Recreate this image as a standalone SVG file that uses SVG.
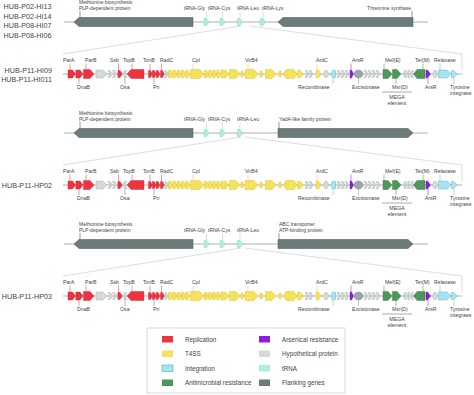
<svg xmlns="http://www.w3.org/2000/svg" xmlns:xlink="http://www.w3.org/1999/xlink" width="474" height="395" viewBox="0 0 474 395">
<style>
text{font-family:"Liberation Sans",Arial,sans-serif;fill:#444}
.tn{font-size:7.2px;fill:#444}
.t5{font-size:5.2px}
.tf{font-size:5px}
.tl{font-size:6.3px;fill:#444}
.ln{stroke:#8c8c8c;stroke-width:0.7;fill:none}
.zm{stroke:#c6c6c6;stroke-width:0.6;fill:none}
.fl{fill:#6d7b7b;stroke:#435050;stroke-width:0.5}
.tr{fill:#aef0dc;stroke:#6fcfb4;stroke-width:0.4}
.rd{fill:#ee3340;stroke:#c4202c;stroke-width:0.4;stroke-linejoin:round}
.yl{fill:#f6e25a;stroke:#d4bb2c;stroke-width:0.4;stroke-linejoin:round}
.gy{fill:#d5d9d9;stroke:#9aa3a3;stroke-width:0.4;stroke-linejoin:round}
.cy{fill:#a6e4f2;stroke:#4fa9bd;stroke-width:0.4;stroke-linejoin:round}
.gr{fill:#4e975a;stroke:#356e3e;stroke-width:0.4;stroke-linejoin:round}
.pu{fill:#8a1ee0;stroke:#6a10b0;stroke-width:0.4}
.ex{fill:#98a8aa;stroke:#6b7b7d;stroke-width:0.4}
.tk{stroke:#333;stroke-width:0.5}
.tkr{stroke:#e0303c;stroke-width:0.5}
.tky{stroke:#d9c12e;stroke-width:0.5}
.tkg{stroke:#3f8a4b;stroke-width:0.5}
.tkp{stroke:#7a14d0;stroke-width:0.5}
.tkc{stroke:#5ab4c8;stroke-width:0.5}
.tkx{stroke:#7d8a8b;stroke-width:0.5}
.tt{stroke:#7fdcc0;stroke-width:0.5}
.mg{stroke:#555;stroke-width:0.5}
</style>
<defs>
<g id="flankbase">
<line class="ln" x1="64" y1="0" x2="428" y2="0"/>
<polygon class="fl" points="74,0 79,-4.5 193,-4.5 193,4.5 79,4.5"/>
<line class="tk" x1="80" y1="-11" x2="80" y2="-4.5"/>
<polygon class="tr" points="204,-3.5 206.5,-3.5 209,0 206.5,3.5 204,3.5"/>
<polygon class="tr" points="220,-3.5 222.5,-3.5 225,0 222.5,3.5 220,3.5"/>
<polygon class="tr" points="237.5,-3.5 240,-3.5 242.5,0 240,3.5 237.5,3.5"/>
<line class="tt" x1="206.5" y1="-10.5" x2="206.5" y2="-3.5"/>
<line class="tt" x1="222.5" y1="-10.5" x2="222.5" y2="-3.5"/>
<line class="tt" x1="240" y1="-10.5" x2="240" y2="-3.5"/>
</g>
<g id="generow">
<line class="ln" x1="63" y1="0" x2="462" y2="0"/>
<polygon class="rd" points="68,-4 72.5,-4 75.5,0 72.5,4 68,4"/>
<polygon class="rd" points="75.8,-4 80,-4 83,0 80,4 75.8,4"/>
<polygon class="rd" points="83.5,-4.5 90,-4.5 94,0 90,4.5 83.5,4.5"/>
<polygon class="gy" points="96,-4 103,-4 107,0 103,4 96,4"/>
<polygon class="gy" points="108,-3.5 110,-3.5 112.5,0 110,3.5 108,3.5 110,0"/>
<polygon class="gy" points="112.5,-3.5 114.5,-3.5 117,0 114.5,3.5 112.5,3.5 114.5,0"/>
<polygon class="rd" points="117.8,-3.5 120,-3.5 122.3,0 120,3.5 117.8,3.5"/>
<polygon class="gy" points="122.5,0 124.5,-3.5 126.8,-3.5 125,0 126.8,3.5 124.5,3.5"/>
<polygon class="rd" points="127,0 131,-4.5 144,-4.5 144,4.5 131,4.5"/>
<polygon class="rd" points="148.5,-3.5 150.5,-3.5 152.3,0 150.5,3.5 148.5,3.5"/>
<polygon class="rd" points="152.3,-3.5 154.3,-3.5 156.1,0 154.3,3.5 152.3,3.5"/>
<polygon class="rd" points="156.1,-3.5 158.1,-3.5 159.9,0 158.1,3.5 156.1,3.5"/>
<polygon class="rd" points="160.5,-3.5 162.5,-3.5 164.3,0 162.5,3.5 160.5,3.5"/>
<polygon class="gy" points="164.5,-3.5 166.3,-3.5 168.3,0 166.3,3.5 164.5,3.5 166.3,0"/>
<polygon class="yl" points="168.5,-3.8 170.8,-3.8 172.7,0 170.8,3.8 168.5,3.8"/>
<polygon class="yl" points="172.8,-3.8 175.1,-3.8 177,0 175.1,3.8 172.8,3.8"/>
<polygon class="yl" points="177.1,-3.8 179.4,-3.8 181.3,0 179.4,3.8 177.1,3.8"/>
<polygon class="yl" points="181.4,-3.8 183.7,-3.8 185.6,0 183.7,3.8 181.4,3.8"/>
<polygon class="yl" points="185.7,-3.8 188,-3.8 189.9,0 188,3.8 185.7,3.8"/>
<polygon class="yl" points="190.5,-4.5 200,-4.5 204,0 200,4.5 190.5,4.5"/>
<polygon class="yl" points="204.5,-3.8 206.6,-3.8 208.5,0 206.6,3.8 204.5,3.8"/>
<polygon class="yl" points="208.6,-3.8 210.7,-3.8 212.6,0 210.7,3.8 208.6,3.8"/>
<polygon class="yl" points="212.7,-3.8 214.8,-3.8 216.7,0 214.8,3.8 212.7,3.8"/>
<polygon class="yl" points="216.8,-3.8 218.9,-3.8 220.8,0 218.9,3.8 216.8,3.8"/>
<polygon class="yl" points="221,-4 225.5,-4 229,0 225.5,4 221,4"/>
<polygon class="yl" points="229.5,-4.5 236,-4.5 240,0 236,4.5 229.5,4.5"/>
<polygon class="yl" points="241,-3 242.5,-3 244,0 242.5,3 241,3"/>
<polygon class="yl" points="245,-4.5 254,-4.5 258,0 254,4.5 245,4.5"/>
<polygon class="yl" points="260,-3 261.5,-3 263,0 261.5,3 260,3"/>
<polygon class="yl" points="265.5,-4.5 272,-4.5 276,0 272,4.5 265.5,4.5"/>
<polygon class="yl" points="278,0 279.5,-3 281,-3 281,3 279.5,3"/>
<polygon class="yl" points="283,0 286,-4.5 294,-4.5 297,0 294,4.5 286,4.5"/>
<polygon class="yl" points="297.5,-3.8 300.5,-3.8 303,0 300.5,3.8 297.5,3.8"/>
<polygon class="gy" points="305,-3.5 307,-3.5 309,0 307,3.5 305,3.5 307,0"/>
<polygon class="gy" points="309,-3.5 311,-3.5 313,0 311,3.5 309,3.5 311,0"/>
<polygon class="yl" points="316,-3.8 318.5,-3.8 321.5,0 318.5,3.8 316,3.8"/>
<polygon class="gy" points="323,0 325,-3.5 327,-3.5 329,0 327,3.5 325,3.5"/>
<polygon class="cy" points="330.5,0 332.5,-3.8 335.5,-3.8 335.5,3.8 332.5,3.8"/>
<polygon class="gy" points="337,-3.5 339,-3.5 341,0 339,3.5 337,3.5 339,0"/>
<polygon class="gy" points="341,-3.5 343,-3.5 345,0 343,3.5 341,3.5 343,0"/>
<polygon class="gy" points="345,-3.5 347,-3.5 349,0 347,3.5 345,3.5 347,0"/>
<polygon class="pu" points="350,-4 351.5,-4 353.5,0 351.5,4 350,4"/>
<ellipse class="ex" cx="358.5" cy="0" rx="4.5" ry="4"/>
<polygon class="gy" points="364,-3.5 366,-3.5 368,0 366,3.5 364,3.5 366,0"/>
<polygon class="gy" points="368,-3.5 370,-3.5 372,0 370,3.5 368,3.5 370,0"/>
<polygon class="gy" points="372,-3.5 374,-3.5 376,0 374,3.5 372,3.5 374,0"/>
<polygon class="gy" points="376,-3.5 378,-3.5 380,0 378,3.5 376,3.5 378,0"/>
<polygon class="gr" points="383,-4.5 388,-4.5 392,0 388,4.5 383,4.5"/>
<polygon class="gr" points="392.5,-4.5 397,-4.5 401,0 397,4.5 392.5,4.5"/>
<polygon class="gy" points="403,0 404.7,-3.5 406.5,-3.5 404.8,0 406.5,3.5 404.7,3.5"/>
<polygon class="gy" points="406.5,0 408.2,-3.5 410,-3.5 408.3,0 410,3.5 408.2,3.5"/>
<polygon class="gy" points="410,0 411.7,-3.5 413.5,-3.5 411.8,0 413.5,3.5 411.7,3.5"/>
<polygon class="gr" points="413.5,0 417,-4.5 425,-4.5 425,4.5 417,4.5"/>
<polygon class="pu" points="426,-4 427.5,-4 430.5,0 427.5,4 426,4"/>
<polygon class="gy" points="432,0 434,-3.5 436,-3.5 438,0 436,3.5 434,3.5"/>
<polygon class="cy" points="438.5,-4 447,-4 451,0 447,4 438.5,4"/>
<polygon class="cy" points="451.5,-3.5 454,-3.5 457,0 454,3.5 451.5,3.5"/>
<line class="tkr" x1="70" y1="-10.5" x2="70" y2="-4"/>
<line class="tkr" x1="86" y1="-10.5" x2="86" y2="-4.5"/>
<line class="tkr" x1="118.5" y1="-10.5" x2="118.5" y2="-3.5"/>
<line class="tkr" x1="132" y1="-10.5" x2="132" y2="-4.5"/>
<line class="tkr" x1="150" y1="-10.5" x2="150" y2="-3.5"/>
<line class="tkr" x1="161.5" y1="-10.5" x2="161.5" y2="-3.5"/>
<line class="tky" x1="193" y1="-10.5" x2="193" y2="-4.5"/>
<line class="tky" x1="248" y1="-10.5" x2="248" y2="-4.5"/>
<line class="tky" x1="317" y1="-10.5" x2="317" y2="-3.8"/>
<line class="tkp" x1="351" y1="-10.5" x2="351" y2="-4"/>
<line class="tkg" x1="384" y1="-10.5" x2="384" y2="-4.5"/>
<line class="tkg" x1="423" y1="-10.5" x2="423" y2="-4.5"/>
<line class="tkc" x1="440" y1="-10.5" x2="440" y2="-4"/>
<line class="tkr" x1="79" y1="4" x2="79" y2="10"/>
<line class="tkr" x1="125" y1="3.5" x2="125" y2="10"/>
<line class="tkr" x1="154" y1="3.5" x2="154" y2="10"/>
<line class="tkc" x1="333" y1="3.8" x2="333" y2="10"/>
<line class="tkx" x1="358.5" y1="4" x2="358.5" y2="10"/>
<line class="tkg" x1="396" y1="4.5" x2="396" y2="10"/>
<line class="tkp" x1="428" y1="4" x2="428" y2="10"/>
<line class="tkc" x1="454" y1="3.5" x2="454" y2="10"/>
<line class="mg" x1="382" y1="18" x2="412" y2="18"/>
</g>
</defs>

<g id="labels-top">
<text class="tn" x="51.5" y="9.2" text-anchor="end">HUB-P02-HI13</text>
<text class="tn" x="51.5" y="18.6" text-anchor="end">HUB-P02-HI14</text>
<text class="tn" x="51.5" y="28.4" text-anchor="end">HUB-P08-HI07</text>
<text class="tn" x="51.5" y="37.6" text-anchor="end">HUB-P08-HI06</text>
</g>

<g id="connectors">
<polyline class="zm" points="63,54 241,26"/>
<polyline class="zm" points="249,26 462,54 462,70"/>
<polyline class="zm" points="63,165 241,137"/>
<polyline class="zm" points="245,137 462,165 462,181"/>
<polyline class="zm" points="63,276 241,248"/>
<polyline class="zm" points="245,248 462,276 462,292"/>
</g>

<g id="flank1" transform="translate(0,22)">
<use xlink:href="#flankbase" href="#flankbase"/>
<polygon class="tr" points="260.5,-3.5 263,-3.5 265.5,0 263,3.5 260.5,3.5"/>
<line class="tt" x1="263" y1="-10.5" x2="263" y2="-3.5"/>
<polygon class="fl" points="278,0 283,-4.5 413,-4.5 413,4.5 283,4.5"/>
<line class="tk" x1="412" y1="-11" x2="412" y2="-4.5"/>
<text class="tf" x="79" y="-18.5">Methionine biosynthesis</text>
<text class="tf" x="79" y="-12.5">PLP-dependent protein</text>
<text class="tf" x="184" y="-12.5">tRNA-Gly</text>
<text class="tf" x="208" y="-12.5">tRNA-Cys</text>
<text class="tf" x="237" y="-12.5">tRNA-Leu</text>
<text class="tf" x="262" y="-12.5">tRNA-Lys</text>
<text class="tf" x="411" y="-12.5" text-anchor="end">Threonine synthase</text>
</g>

<g id="row1" transform="translate(0,74)">
<use xlink:href="#generow" href="#generow"/>
<text class="tn" x="52" y="-1.5" text-anchor="end">HUB-P11-HI09</text>
<text class="tn" x="52" y="7.5" text-anchor="end">HUB-P11-HI011</text>
<text class="t5" x="63" y="-12">ParA</text>
<text class="t5" x="85" y="-12">ParB</text>
<text class="t5" x="110" y="-12">Ssb</text>
<text class="t5" x="123" y="-12">TopB</text>
<text class="t5" x="143" y="-12">TonB</text>
<text class="t5" x="160" y="-12">RadC</text>
<text class="t5" x="192" y="-12">Cpl</text>
<text class="t5" x="245" y="-12">VirB4</text>
<text class="t5" x="316" y="-12">ArdC</text>
<text class="t5" x="352" y="-12">ArsR</text>
<text class="t5" x="385" y="-12">Mef(E)</text>
<text class="t5" x="415" y="-12">Tet(M)</text>
<text class="t5" x="434" y="-12">Relaxase</text>
<text class="t5" x="77" y="14.5">DnaB</text>
<text class="t5" x="120" y="14.5">Osa</text>
<text class="t5" x="153" y="14.5">Pri</text>
<text class="t5" x="298" y="14.5">Recombinase</text>
<text class="t5" x="352" y="14.5">Excisionase</text>
<text class="t5" x="392" y="14.5">Msr(D)</text>
<text class="t5" x="425" y="14.5">ArsR</text>
<text class="t5" x="450" y="14.5">Tyrosine</text>
<text class="t5" x="450" y="20.5">integrase</text>
<text class="t5" x="397" y="25" text-anchor="middle">MEGA</text>
<text class="t5" x="397" y="31" text-anchor="middle">element</text>
</g>

<g id="flank2" transform="translate(0,133)">
<use xlink:href="#flankbase" href="#flankbase"/>
<polygon class="fl" points="278,-4.5 408,-4.5 413,0 408,4.5 278,4.5"/>
<line class="tk" x1="279" y1="-11" x2="279" y2="-4.5"/>
<text class="tf" x="79" y="-18.5">Methionine biosynthesis</text>
<text class="tf" x="79" y="-12.5">PLP-dependent protein</text>
<text class="tf" x="184" y="-12.5">tRNA-Gly</text>
<text class="tf" x="208" y="-12.5">tRNA-Cys</text>
<text class="tf" x="237" y="-12.5">tRNA-Leu</text>
<text class="tf" x="279" y="-12.5">YadA-like family protein</text>
</g>

<g id="row2" transform="translate(0,185)">
<use xlink:href="#generow" href="#generow"/>
<text class="tn" x="52" y="2.5" text-anchor="end">HUB-P11-HP02</text>
<text class="t5" x="63" y="-12">ParA</text>
<text class="t5" x="85" y="-12">ParB</text>
<text class="t5" x="110" y="-12">Ssb</text>
<text class="t5" x="123" y="-12">TopB</text>
<text class="t5" x="143" y="-12">TonB</text>
<text class="t5" x="160" y="-12">RadC</text>
<text class="t5" x="192" y="-12">Cpl</text>
<text class="t5" x="245" y="-12">VirB4</text>
<text class="t5" x="316" y="-12">ArdC</text>
<text class="t5" x="352" y="-12">ArsR</text>
<text class="t5" x="385" y="-12">Mef(E)</text>
<text class="t5" x="415" y="-12">Tet(M)</text>
<text class="t5" x="434" y="-12">Relaxase</text>
<text class="t5" x="77" y="14.5">DnaB</text>
<text class="t5" x="120" y="14.5">Osa</text>
<text class="t5" x="153" y="14.5">Pri</text>
<text class="t5" x="298" y="14.5">Recombinase</text>
<text class="t5" x="352" y="14.5">Excisionase</text>
<text class="t5" x="392" y="14.5">Msr(D)</text>
<text class="t5" x="425" y="14.5">ArsR</text>
<text class="t5" x="450" y="14.5">Tyrosine</text>
<text class="t5" x="450" y="20.5">integrase</text>
<text class="t5" x="397" y="25" text-anchor="middle">MEGA</text>
<text class="t5" x="397" y="31" text-anchor="middle">element</text>
</g>

<g id="flank3" transform="translate(0,244)">
<use xlink:href="#flankbase" href="#flankbase"/>
<polygon class="fl" points="278,-4.5 408,-4.5 413,0 408,4.5 278,4.5"/>
<line class="tk" x1="279" y1="-11" x2="279" y2="-4.5"/>
<text class="tf" x="79" y="-18.5">Methionine biosynthesis</text>
<text class="tf" x="79" y="-12.5">PLP-dependent protein</text>
<text class="tf" x="184" y="-12.5">tRNA-Gly</text>
<text class="tf" x="208" y="-12.5">tRNA-Cys</text>
<text class="tf" x="237" y="-12.5">tRNA-Leu</text>
<text class="tf" x="279" y="-18.5">ABC transporter</text>
<text class="tf" x="279" y="-12.5">ATP-binding protein</text>
</g>

<g id="row3" transform="translate(0,296)">
<use xlink:href="#generow" href="#generow"/>
<text class="tn" x="52" y="2.5" text-anchor="end">HUB-P11-HP03</text>
<text class="t5" x="63" y="-12">ParA</text>
<text class="t5" x="85" y="-12">ParB</text>
<text class="t5" x="110" y="-12">Ssb</text>
<text class="t5" x="123" y="-12">TopB</text>
<text class="t5" x="143" y="-12">TonB</text>
<text class="t5" x="160" y="-12">RadC</text>
<text class="t5" x="192" y="-12">Cpl</text>
<text class="t5" x="245" y="-12">VirB4</text>
<text class="t5" x="316" y="-12">ArdC</text>
<text class="t5" x="352" y="-12">ArsR</text>
<text class="t5" x="385" y="-12">Mef(E)</text>
<text class="t5" x="415" y="-12">Tet(M)</text>
<text class="t5" x="434" y="-12">Relaxase</text>
<text class="t5" x="77" y="14.5">DnaB</text>
<text class="t5" x="120" y="14.5">Osa</text>
<text class="t5" x="153" y="14.5">Pri</text>
<text class="t5" x="298" y="14.5">Recombinase</text>
<text class="t5" x="352" y="14.5">Excisionase</text>
<text class="t5" x="392" y="14.5">Msr(D)</text>
<text class="t5" x="425" y="14.5">ArsR</text>
<text class="t5" x="450" y="14.5">Tyrosine</text>
<text class="t5" x="450" y="20.5">integrase</text>
<text class="t5" x="397" y="25" text-anchor="middle">MEGA</text>
<text class="t5" x="397" y="31" text-anchor="middle">element</text>
</g>

<g id="legend">
<rect x="147" y="328" width="198" height="65" fill="#fff" stroke="#cfcfcf" stroke-width="0.8"/>
<rect x="162" y="336" width="11" height="6.5" fill="#ee3340"/>
<rect x="162" y="350.5" width="11" height="6.5" fill="#f6e25a"/>
<rect x="162" y="365" width="11" height="6.5" fill="#a6e4f2" stroke="#4fa9bd" stroke-width="0.6"/>
<rect x="162" y="379.5" width="11" height="6.5" fill="#4e975a"/>
<rect x="259" y="336" width="11" height="6.5" fill="#8a1ee0"/>
<rect x="259" y="350.5" width="11" height="6.5" fill="#d5d9d9"/>
<rect x="259" y="365" width="11" height="6.5" fill="#aef0dc"/>
<rect x="259" y="379.5" width="11" height="6.5" fill="#6d7b7b"/>
<text class="tl" x="185" y="341.5">Replication</text>
<text class="tl" x="185" y="356">T4SS</text>
<text class="tl" x="185" y="370.5">Integration</text>
<text class="tl" x="185" y="385">Antimicrobial resistance</text>
<text class="tl" x="282" y="341.5">Arsenical resistance</text>
<text class="tl" x="282" y="356">Hypothetical protein</text>
<text class="tl" x="282" y="370.5">tRNA</text>
<text class="tl" x="282" y="385">Flanking genes</text>
</g>
</svg>
